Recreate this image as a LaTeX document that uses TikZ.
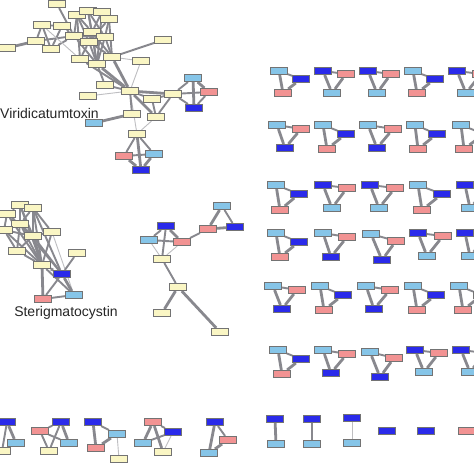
\documentclass[tikz,border=0pt]{standalone}
\usepackage{fontspec}
\setmainfont{Liberation Sans}
\usetikzlibrary{backgrounds}
\definecolor{yelfill}{HTML}{FAF6C4}
\definecolor{lbfill}{HTML}{86C5E8}
\definecolor{salfill}{HTML}{F29393}
\definecolor{blufill}{HTML}{2A2AEA}
\definecolor{linkgray}{HTML}{88888E}
\begin{document}
\begin{tikzpicture}[x=1pt,y=-1pt]
    \tikzstyle{every node}+=[inner sep=0pt]
    \tikzstyle{gene}=[draw=black!55, line width=0.6pt, minimum width=17pt, minimum height=7.5pt]
    \tikzstyle{yel}=[gene, fill=yelfill]
    \tikzstyle{lb}=[gene, fill=lbfill]
    \tikzstyle{sal}=[gene, fill=salfill]
    \tikzstyle{blu}=[gene, fill=blufill]
    \tikzstyle{lnk}=[draw=linkgray, line width=1.9pt]
    \tikzstyle{fat}=[draw=linkgray, line width=2.8pt]
    \tikzstyle{faint}=[draw=linkgray!55, line width=0.9pt]
    \tikzstyle{cluster label}=[font=\fontsize{14}{16}\selectfont, text=black!85]
    \useasboundingbox (0,0) rectangle (474,474);
    % Viridicatumtoxin cluster
    \node [yel] (v1) at (57,4) {};
    \node [yel] (v2) at (77,15) {};
    \node [yel] (v3) at (88,11) {};
    \node [yel] (v4) at (102,12) {};
    \node [yel] (v5) at (109,19) {};
    \node [yel] (v6) at (42,25) {};
    \node [yel] (v7) at (62,26) {};
    \node [yel] (v8) at (74,36) {};
    \node [yel] (v9) at (92,32) {};
    \node [yel] (v10) at (105,37) {};
    \node [yel] (v11) at (89,42) {};
    \node [yel] (v12) at (36,41) {};
    \node [yel] (v13) at (51,49) {};
    \node [yel] (v14) at (7,48) {};
    \node [yel] (v15) at (163,40) {};
    \node [yel] (v16) at (80,59) {};
    \node [yel] (v17) at (97,64) {};
    \node [yel] (v18) at (112,57) {};
    \node [yel] (v19) at (141,61) {};
    \node [yel] (v20) at (105,85) {};
    \node [yel] (v21) at (88,96) {};
    \node [yel] (v22) at (130,91) {};
    \node [yel] (v23) at (152,99) {};
    \node [yel] (v24) at (173,94) {};
    \node [lb] (v25) at (193,78) {};
    \node [sal] (v26) at (209,92) {};
    \node [blu] (v27) at (194,108) {};
    \node [yel] (v28) at (132,114) {};
    \node [yel] (v29) at (156,117) {};
    \node [lb] (v30) at (94,123) {};
    \node [yel] (v31) at (137,134) {};
    \node [sal] (v32) at (124,156) {};
    \node [lb] (v33) at (154,154) {};
    \node [blu] (v34) at (141,170) {};
    \node [cluster label, anchor=west] (vlabel) at (0,113) {Viridicatumtoxin};
    % Sterigmatocystin cluster
    \node [yel] (s1) at (20,205) {};
    \node [yel] (s2) at (33,208) {};
    \node [yel] (s3) at (7,214) {};
    \node [yel] (s4) at (20,224) {};
    \node [yel] (s5) at (4,230) {};
    \node [yel] (s6) at (33,236) {};
    \node [yel] (s7) at (52,232) {};
    \node [yel] (s8) at (17,251) {};
    \node [yel] (s9) at (77,253) {};
    \node [yel] (s10) at (42,265) {};
    \node [blu] (s11) at (62,274) {};
    \node [sal] (s12) at (43,299) {};
    \node [lb] (s13) at (74,295) {};
    \node [cluster label] (slabel) at (66,313) {Sterigmatocystin};
    % middle cluster
    \node [lb] (m1) at (222,206) {};
    \node [blu] (m2) at (166,226) {};
    \node [sal] (m3) at (208,229) {};
    \node [blu] (m4) at (235,227) {};
    \node [lb] (m5) at (149,240) {};
    \node [sal] (m6) at (182,242) {};
    \node [yel] (m7) at (162,259) {};
    \node [yel] (m8) at (178,287) {};
    \node [yel] (m9) at (162,313) {};
    \node [yel] (m10) at (220,332) {};
    % triads, row 1
    \node [lb] (t11a) at (279,71) {};  \node [blu] (t11b) at (301,79) {};  \node [sal] (t11c) at (283,93) {};
    \node [blu] (t12a) at (323,71) {}; \node [sal] (t12b) at (346,74) {};  \node [lb] (t12c) at (332,93) {};
    \node [blu] (t13a) at (368,71) {}; \node [sal] (t13b) at (391,74) {};  \node [lb] (t13c) at (377,93) {};
    \node [lb] (t14a) at (413,71) {};  \node [blu] (t14b) at (435,79) {};  \node [sal] (t14c) at (417,93) {};
    \node [blu] (t15a) at (457,71) {}; \node [sal] (t15b) at (481,74) {};  \node [lb] (t15c) at (466,93) {};
    % row 2
    \node [lb] (t21a) at (277,125) {}; \node [sal] (t21b) at (301,129) {}; \node [blu] (t21c) at (285,148) {};
    \node [lb] (t22a) at (323,125) {}; \node [blu] (t22b) at (346,134) {}; \node [sal] (t22c) at (327,149) {};
    \node [lb] (t23a) at (368,125) {}; \node [sal] (t23b) at (393,129) {}; \node [blu] (t23c) at (377,148) {};
    \node [lb] (t24a) at (415,125) {}; \node [blu] (t24b) at (437,134) {}; \node [sal] (t24c) at (418,149) {};
    \node [lb] (t25a) at (461,125) {}; \node [blu] (t25b) at (484,134) {}; \node [sal] (t25c) at (464,149) {};
    % row 3
    \node [lb] (t31a) at (276,185) {}; \node [blu] (t31b) at (299,194) {}; \node [sal] (t31c) at (280,210) {};
    \node [blu] (t32a) at (323,185) {}; \node [sal] (t32b) at (347,188) {}; \node [lb] (t32c) at (332,208) {};
    \node [blu] (t33a) at (370,185) {}; \node [sal] (t33b) at (395,188) {}; \node [lb] (t33c) at (379,208) {};
    \node [lb] (t34a) at (418,185) {}; \node [blu] (t34b) at (442,194) {}; \node [sal] (t34c) at (422,210) {};
    \node [blu] (t35a) at (465,185) {}; \node [sal] (t35b) at (488,188) {}; \node [lb] (t35c) at (470,208) {};
    % row 4
    \node [lb] (t41a) at (276,233) {}; \node [blu] (t41b) at (299,242) {}; \node [sal] (t41c) at (280,257) {};
    \node [lb] (t42a) at (323,233) {}; \node [sal] (t42b) at (347,237) {}; \node [blu] (t42c) at (331,257) {};
    \node [lb] (t43a) at (371,234) {}; \node [sal] (t43b) at (396,241) {}; \node [blu] (t43c) at (382,260) {};
    \node [blu] (t44a) at (418,233) {}; \node [sal] (t44b) at (443,236) {}; \node [lb] (t44c) at (427,256) {};
    \node [blu] (t45a) at (465,233) {}; \node [sal] (t45b) at (488,236) {}; \node [lb] (t45c) at (470,256) {};
    % row 5
    \node [lb] (t51a) at (273,286) {}; \node [sal] (t51b) at (297,290) {}; \node [blu] (t51c) at (282,309) {};
    \node [lb] (t52a) at (320,286) {}; \node [blu] (t52b) at (343,295) {}; \node [sal] (t52c) at (324,310) {};
    \node [lb] (t53a) at (366,286) {}; \node [sal] (t53b) at (390,290) {}; \node [blu] (t53c) at (374,309) {};
    \node [lb] (t54a) at (413,286) {}; \node [blu] (t54b) at (436,295) {}; \node [sal] (t54c) at (417,310) {};
    \node [lb] (t55a) at (459,286) {}; \node [blu] (t55b) at (482,295) {}; \node [sal] (t55c) at (463,310) {};
    % row 6
    \node [lb] (t61a) at (278,350) {}; \node [blu] (t61b) at (301,359) {}; \node [sal] (t61c) at (282,374) {};
    \node [lb] (t62a) at (323,350) {}; \node [sal] (t62b) at (347,354) {}; \node [blu] (t62c) at (331,373) {};
    \node [lb] (t63a) at (370,352) {}; \node [sal] (t63b) at (394,358) {}; \node [blu] (t63c) at (380,377) {};
    \node [blu] (t64a) at (415,350) {}; \node [sal] (t64b) at (439,353) {}; \node [lb] (t64c) at (424,372) {};
    \node [blu] (t65a) at (461,350) {}; \node [sal] (t65b) at (485,353) {}; \node [lb] (t65c) at (470,372) {};
    % pairs and singles, bottom right
    \node [blu] (p1a) at (275,419) {}; \node [lb] (p1b) at (276,444) {};
    \node [blu] (p2a) at (312,419) {}; \node [lb] (p2b) at (312,444) {};
    \node [blu] (p3a) at (352,418) {}; \node [lb] (p3b) at (352,443) {};
    \node [blu] (q1) at (387,431) {};
    \node [blu] (q2) at (426,431) {};
    \node [sal] (q3) at (467,431) {};
    % small groups, bottom left
    \node [blu] (g1b) at (7,422) {}; \node [lb] (g1l) at (16,443) {}; \node [yel] (g1y) at (2,451) {};
    \node [sal] (g2s) at (40,431) {}; \node [blu] (g2b) at (61,422) {}; \node [lb] (g2l) at (69,443) {}; \node [yel] (g2y) at (49,451) {};
    \node [blu] (g3b) at (93,422) {}; \node [lb] (g3l) at (117,434) {}; \node [sal] (g3s) at (96,448) {}; \node [yel] (g3y) at (119,459) {};
    \node [sal] (g4s) at (153,422) {}; \node [blu] (g4b) at (173,432) {}; \node [lb] (g4l) at (143,443) {}; \node [yel] (g4y) at (163,452) {};
    \node [blu] (g5b) at (215,422) {}; \node [sal] (g5s) at (228,440) {}; \node [lb] (g5l) at (209,453) {};
    \begin{scope}[on background layer]
    \fill [white] (0,0) rectangle (474,474);
    % Viridicatumtoxin links
    \draw [lnk] (v1) -- (v8);
    \draw [fat] (v14) -- (v12);
    \draw [lnk] (v12) -- (v6);
    \draw [lnk] (v12) -- (v13);
    \draw [lnk] (v12) -- (v8);
    \draw [lnk] (v6) -- (v7);
    \draw [lnk] (v6) -- (v13);
    \draw [lnk] (v7) -- (v13);
    \draw [lnk] (v7) -- (v8);
    \draw [lnk] (v13) -- (v8);
    \draw [lnk] (v2) -- (v3);
    \draw [lnk] (v2) -- (v9);
    \draw [lnk] (v2) -- (v11);
    \draw [lnk] (v2) -- (v8);
    \draw [lnk] (v3) -- (v4);
    \draw [lnk] (v3) -- (v9);
    \draw [lnk] (v3) -- (v10);
    \draw [lnk] (v4) -- (v5);
    \draw [lnk] (v4) -- (v9);
    \draw [lnk] (v5) -- (v10);
    \draw [lnk] (v5) -- (v11);
    \draw [fat] (v9) -- (v10);
    \draw [fat] (v9) -- (v11);
    \draw [lnk] (v10) -- (v11);
    \draw [lnk] (v8) -- (v9);
    \draw [lnk] (v8) -- (v11);
    \draw [lnk] (v8) -- (v10);
    \draw [lnk] (v2) -- (v16);
    \draw [lnk] (v3) -- (v17);
    \draw [lnk] (v9) -- (v17);
    \draw [lnk] (v10) -- (v17);
    \draw [lnk] (v11) -- (v16);
    \draw [lnk] (v11) -- (v17);
    \draw [lnk] (v11) -- (v18);
    \draw [lnk] (v10) -- (v18);
    \draw [lnk] (v9) -- (v18);
    \draw [lnk] (v8) -- (v17);
    \draw [lnk] (v5) -- (v18);
    \draw [lnk] (v4) -- (v17);
    \draw [faint] (v6) -- (v16);
    \draw [lnk] (v16) -- (v17);
    \draw [lnk] (v17) -- (v18);
    \draw [lnk] (v15) -- (v18);
    \draw [faint] (v18) -- (v19);
    \draw [faint] (v19) -- (v22);
    \draw [lnk] (v16) -- (v22);
    \draw [fat] (v17) -- (v22);
    \draw [fat] (v18) -- (v22);
    \draw [lnk] (v20) -- (v17);
    \draw [lnk] (v20) -- (v22);
    \draw [faint] (v21) -- (v22);
    \draw [lnk] (v22) -- (v23);
    \draw [fat] (v22) -- (v24);
    \draw [fat] (v22) -- (v29);
    \draw [faint] (v22) -- (v31);
    \draw [lnk] (v22) -- (v28);
    \draw [lnk] (v23) -- (v24);
    \draw [lnk] (v23) -- (v29);
    \draw [lnk] (v24) -- (v29);
    \draw [lnk] (v24) -- (v25);
    \draw [lnk] (v24) -- (v26);
    \draw [lnk] (v24) -- (v27);
    \draw [fat] (v25) -- (v26);
    \draw [fat] (v25) -- (v27);
    \draw [lnk] (v26) -- (v27);
    \draw [fat] (v28) -- (v30);
    \draw [faint] (v29) -- (v31);
    \draw [lnk] (v31) -- (v32);
    \draw [lnk] (v31) -- (v33);
    \draw [fat] (v31) -- (v34);
    \draw [lnk] (v32) -- (v33);
    \draw [fat] (v32) -- (v34);
    \draw [fat] (v33) -- (v34);
    % Sterigmatocystin links
    \draw [lnk] (s1) -- (s2);
    \draw [lnk] (s1) -- (s3);
    \draw [lnk] (s1) -- (s4);
    \draw [lnk] (s1) -- (s6);
    \draw [lnk] (s2) -- (s4);
    \draw [lnk] (s2) -- (s6);
    \draw [lnk] (s2) -- (s7);
    \draw [lnk] (s3) -- (s4);
    \draw [lnk] (s3) -- (s5);
    \draw [lnk] (s3) -- (s6);
    \draw [lnk] (s4) -- (s5);
    \draw [lnk] (s4) -- (s6);
    \draw [lnk] (s4) -- (s8);
    \draw [lnk] (s5) -- (s8);
    \draw [lnk] (s5) -- (s6);
    \draw [lnk] (s6) -- (s8);
    \draw [lnk] (s6) -- (s7);
    \draw [lnk] (s1) -- (s10);
    \draw [lnk] (s2) -- (s10);
    \draw [lnk] (s3) -- (s10);
    \draw [lnk] (s4) -- (s10);
    \draw [lnk] (s5) -- (s10);
    \draw [fat] (s6) -- (s10);
    \draw [lnk] (s7) -- (s10);
    \draw [lnk] (s8) -- (s10);
    \draw [lnk] (s2) -- (s11);
    \draw [lnk] (s4) -- (s11);
    \draw [lnk] (s6) -- (s11);
    \draw [faint] (s7) -- (s13);
    \draw [lnk] (s9) -- (s11);
    \draw [fat] (s10) -- (s11);
    \draw [fat] (s10) -- (s12);
    \draw [lnk] (s10) -- (s13);
    \draw [lnk] (s11) -- (s12);
    \draw [fat] (s11) -- (s13);
    \draw [lnk] (s12) -- (s13);
    % middle cluster links
    \draw [fat] (m1) -- (m3);
    \draw [lnk] (m1) -- (m4);
    \draw [fat] (m3) -- (m4);
    \draw [lnk] (m3) -- (m6);
    \draw [lnk] (m2) -- (m5);
    \draw [fat] (m2) -- (m6);
    \draw [lnk] (m2) -- (m7);
    \draw [lnk] (m5) -- (m6);
    \draw [faint] (m5) -- (m7);
    \draw [faint] (m6) -- (m7);
    \draw [lnk] (m7) -- (m8);
    \draw [fat] (m8) -- (m9);
    \draw [fat] (m8) -- (m10);
    % triad links
    \draw [fat] (t11a) -- (t11c); \draw [lnk] (t11a) -- (t11b); \draw [fat] (t11b) -- (t11c);
    \draw [fat] (t12a) -- (t12c); \draw [lnk] (t12a) -- (t12b); \draw [fat] (t12b) -- (t12c);
    \draw [fat] (t13a) -- (t13c); \draw [lnk] (t13a) -- (t13b); \draw [fat] (t13b) -- (t13c);
    \draw [fat] (t14a) -- (t14c); \draw [lnk] (t14a) -- (t14b); \draw [fat] (t14b) -- (t14c);
    \draw [fat] (t15a) -- (t15c); \draw [lnk] (t15a) -- (t15b); \draw [fat] (t15b) -- (t15c);
    \draw [fat] (t21a) -- (t21c); \draw [lnk] (t21a) -- (t21b); \draw [fat] (t21b) -- (t21c);
    \draw [fat] (t22a) -- (t22c); \draw [lnk] (t22a) -- (t22b); \draw [fat] (t22b) -- (t22c);
    \draw [fat] (t23a) -- (t23c); \draw [lnk] (t23a) -- (t23b); \draw [fat] (t23b) -- (t23c);
    \draw [fat] (t24a) -- (t24c); \draw [lnk] (t24a) -- (t24b); \draw [fat] (t24b) -- (t24c);
    \draw [fat] (t25a) -- (t25c); \draw [lnk] (t25a) -- (t25b); \draw [fat] (t25b) -- (t25c);
    \draw [fat] (t31a) -- (t31c); \draw [lnk] (t31a) -- (t31b); \draw [fat] (t31b) -- (t31c);
    \draw [fat] (t32a) -- (t32c); \draw [lnk] (t32a) -- (t32b); \draw [fat] (t32b) -- (t32c);
    \draw [fat] (t33a) -- (t33c); \draw [lnk] (t33a) -- (t33b); \draw [fat] (t33b) -- (t33c);
    \draw [fat] (t34a) -- (t34c); \draw [lnk] (t34a) -- (t34b); \draw [fat] (t34b) -- (t34c);
    \draw [fat] (t35a) -- (t35c); \draw [lnk] (t35a) -- (t35b); \draw [fat] (t35b) -- (t35c);
    \draw [fat] (t41a) -- (t41c); \draw [lnk] (t41a) -- (t41b); \draw [fat] (t41b) -- (t41c);
    \draw [fat] (t42a) -- (t42c); \draw [lnk] (t42a) -- (t42b); \draw [fat] (t42b) -- (t42c);
    \draw [fat] (t43a) -- (t43c); \draw [lnk] (t43a) -- (t43b); \draw [fat] (t43b) -- (t43c);
    \draw [fat] (t44a) -- (t44c); \draw [lnk] (t44a) -- (t44b); \draw [fat] (t44b) -- (t44c);
    \draw [fat] (t45a) -- (t45c); \draw [lnk] (t45a) -- (t45b); \draw [fat] (t45b) -- (t45c);
    \draw [fat] (t51a) -- (t51c); \draw [lnk] (t51a) -- (t51b); \draw [fat] (t51b) -- (t51c);
    \draw [fat] (t52a) -- (t52c); \draw [lnk] (t52a) -- (t52b); \draw [fat] (t52b) -- (t52c);
    \draw [fat] (t53a) -- (t53c); \draw [lnk] (t53a) -- (t53b); \draw [fat] (t53b) -- (t53c);
    \draw [fat] (t54a) -- (t54c); \draw [lnk] (t54a) -- (t54b); \draw [fat] (t54b) -- (t54c);
    \draw [fat] (t55a) -- (t55c); \draw [lnk] (t55a) -- (t55b); \draw [fat] (t55b) -- (t55c);
    \draw [fat] (t61a) -- (t61c); \draw [lnk] (t61a) -- (t61b); \draw [fat] (t61b) -- (t61c);
    \draw [fat] (t62a) -- (t62c); \draw [lnk] (t62a) -- (t62b); \draw [fat] (t62b) -- (t62c);
    \draw [fat] (t63a) -- (t63c); \draw [lnk] (t63a) -- (t63b); \draw [fat] (t63b) -- (t63c);
    \draw [fat] (t64a) -- (t64c); \draw [lnk] (t64a) -- (t64b); \draw [fat] (t64b) -- (t64c);
    \draw [fat] (t65a) -- (t65c); \draw [lnk] (t65a) -- (t65b); \draw [fat] (t65b) -- (t65c);
    % pairs
    \draw [fat] (p1a) -- (p1b);
    \draw [fat] (p2a) -- (p2b);
    \draw [faint] (p3a) -- (p3b);
    % bottom left groups
    \draw [fat] (g1b) -- (g1l);
    \draw [lnk] (g1b) -- (g1y);
    \draw [lnk] (g1l) -- (g1y);
    \draw [lnk] (g2s) -- (g2b);
    \draw [lnk] (g2s) -- (g2l);
    \draw [lnk] (g2s) -- (g2y);
    \draw [fat] (g2b) -- (g2l);
    \draw [lnk] (g2b) -- (g2y);
    \draw [lnk] (g3b) -- (g3l);
    \draw [fat] (g3b) -- (g3s);
    \draw [fat] (g3l) -- (g3s);
    \draw [faint] (g3l) -- (g3y);
    \draw [lnk] (g4s) -- (g4b);
    \draw [fat] (g4s) -- (g4l);
    \draw [fat] (g4s) -- (g4y);
    \draw [lnk] (g4b) -- (g4l);
    \draw [faint] (g4b) -- (g4y);
    \draw [fat] (g5b) -- (g5l);
    \draw [lnk] (g5b) -- (g5s);
    \draw [fat] (g5s) -- (g5l);
    \end{scope}
\end{tikzpicture}
\end{document}
